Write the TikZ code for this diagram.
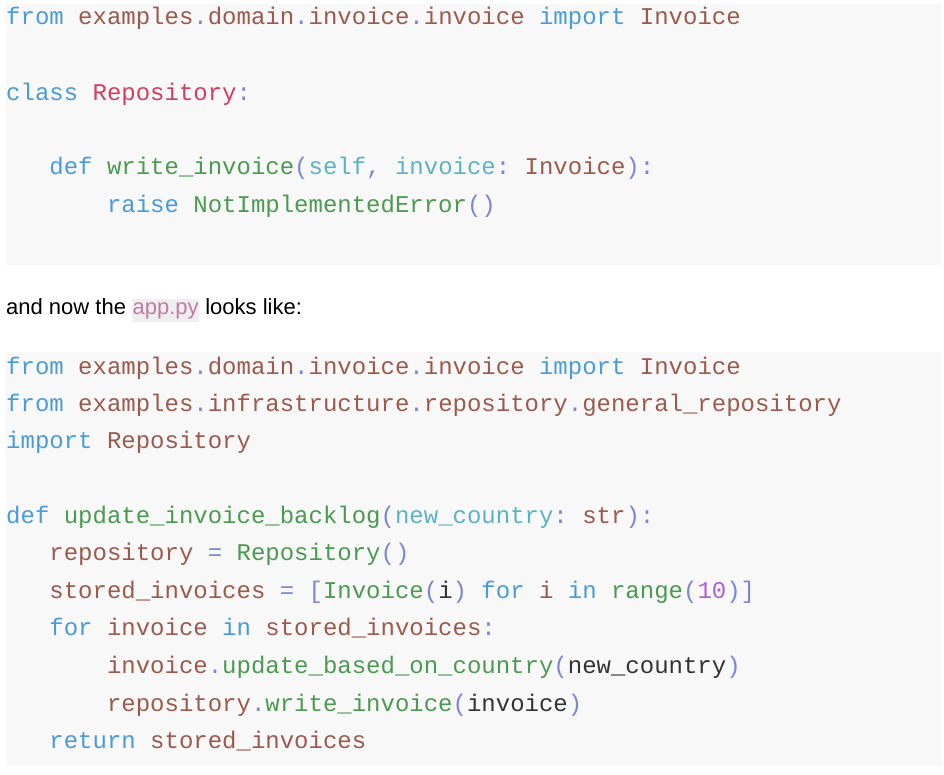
\documentclass[tikz,border=0pt]{standalone}
\usepackage{fontspec}
\setmainfont{Liberation Sans}
\newfontfamily\codefont{Liberation Mono}
\definecolor{cbg}{HTML}{F8F8F8}
\definecolor{ckw}{HTML}{4A9BDA}
\definecolor{cmd}{HTML}{9B5A4C}
\definecolor{cpt}{HTML}{7C86D3}
\definecolor{ccl}{HTML}{D23F5E}
\definecolor{cfn}{HTML}{4B9A52}
\definecolor{cse}{HTML}{5AB4C2}
\definecolor{cnum}{HTML}{B15FCC}
\definecolor{cpl}{HTML}{333333}
\definecolor{capp}{HTML}{C07BA6}
\definecolor{cappbg}{HTML}{EFEFEF}
\newcommand{\Kw}[1]{\textcolor{ckw}{#1}}
\newcommand{\Md}[1]{\textcolor{cmd}{#1}}
\newcommand{\Pt}[1]{\textcolor{cpt}{#1}}
\newcommand{\Cl}[1]{\textcolor{ccl}{#1}}
\newcommand{\Fn}[1]{\textcolor{cfn}{#1}}
\newcommand{\Se}[1]{\textcolor{cse}{#1}}
\newcommand{\Nm}[1]{\textcolor{cnum}{#1}}
\newcommand{\Pl}[1]{\textcolor{cpl}{#1}}
\newcommand{\Sp}{\ }
\begin{document}
\begin{tikzpicture}[x=1pt,y=-1pt,
  code/.style={anchor=base west,inner sep=0pt,font=\codefont\fontsize{24}{24}\selectfont},
  prose/.style={anchor=base west,inner sep=0pt,font=\fontsize{22}{24}\selectfont}]
\useasboundingbox (0,0) rectangle (944,774);
\fill[white] (0,0) rectangle (944,774);
\fill[cbg] (6,4) rectangle (942,265);
\fill[cbg] (6,352) rectangle (942,766);
\node[code] (l1) at (6,24) {\Kw{from}\Sp\Md{examples}\Pt{.}\Md{domain}\Pt{.}\Md{invoice}\Pt{.}\Md{invoice}\Sp\Kw{import}\Sp\Md{Invoice}};
\node[code] (l2) at (6,100) {\Kw{class}\Sp\Cl{Repository}\Pt{:}};
\node[code] (l3) at (49.2,174) {\Kw{def}\Sp\Fn{write\_invoice}\Pt{(}\Se{self}\Pt{,}\Sp\Se{invoice}\Pt{:}\Sp\Md{Invoice}\Pt{):}};
\node[code] (l4) at (106.8,212) {\Kw{raise}\Sp\Fn{NotImplementedError}\Pt{()}};
\node[prose] (p1) at (6,314) {and now the \colorbox{cappbg}{\hspace{-2.5pt}\textcolor{capp}{app.py}\hspace{-2.5pt}} looks like:};
\node[code] (m1) at (6,374) {\Kw{from}\Sp\Md{examples}\Pt{.}\Md{domain}\Pt{.}\Md{invoice}\Pt{.}\Md{invoice}\Sp\Kw{import}\Sp\Md{Invoice}};
\node[code] (m2) at (6,411) {\Kw{from}\Sp\Md{examples}\Pt{.}\Md{infrastructure}\Pt{.}\Md{repository}\Pt{.}\Md{general\_repository}};
\node[code] (m3) at (6,448) {\Kw{import}\Sp\Md{Repository}};
\node[code] (m4) at (6,523) {\Kw{def}\Sp\Fn{update\_invoice\_backlog}\Pt{(}\Se{new\_country}\Pt{:}\Sp\Md{str}\Pt{):}};
\node[code] (m5) at (49.2,560) {\Md{repository}\Sp\Pt{=}\Sp\Fn{Repository}\Pt{()}};
\node[code] (m6) at (49.2,598) {\Md{stored\_invoices}\Sp\Pt{=}\Sp\Pt{[}\Fn{Invoice}\Pt{(}\Pl{i}\Pt{)}\Sp\Kw{for}\Sp\Md{i}\Sp\Kw{in}\Sp\Fn{range}\Pt{(}\Nm{10}\Pt{)]}};
\node[code] (m7) at (49.2,635) {\Kw{for}\Sp\Md{invoice}\Sp\Kw{in}\Sp\Md{stored\_invoices}\Pt{:}};
\node[code] (m8) at (106.8,673) {\Md{invoice}\Pt{.}\Fn{update\_based\_on\_country}\Pt{(}\Pl{new\_country}\Pt{)}};
\node[code] (m9) at (106.8,711) {\Md{repository}\Pt{.}\Fn{write\_invoice}\Pt{(}\Pl{invoice}\Pt{)}};
\node[code] (m10) at (49.2,748) {\Kw{return}\Sp\Md{stored\_invoices}};
\end{tikzpicture}
\end{document}
